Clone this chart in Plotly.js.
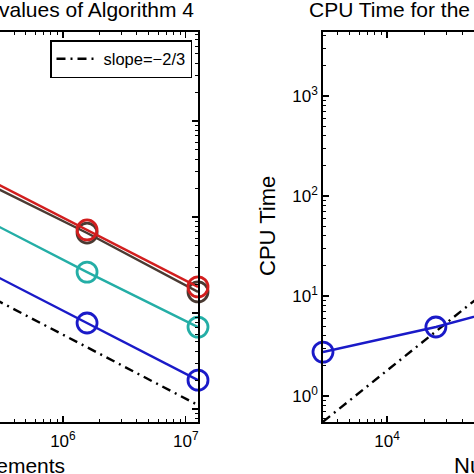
<!DOCTYPE html>
<html>
<head>
<meta charset="utf-8">
<script src="https://cdn.plot.ly/plotly-3.0.1.min.js"></script>
<style>
  html, body { margin: 0; padding: 0; background: #fff; overflow: hidden; }
  #chart { width: 474px; height: 474px; overflow: hidden; }
</style>
</head>
<body>
<div id="chart"></div>
<script>
// Number of elements for the three finest meshes (left panel)
const elementsLeft = [196608, 1572864, 12582912];
// Eigenvalue errors per eigenvalue (left panel)
const errRed   = [0.0287, 0.00733, 0.00187];
const errBrown = [0.0255, 0.00681, 0.00166];
const errTeal  = [0.0105, 0.00267, 0.000714];
const errBlue  = [0.00309, 0.000787, 0.000200];
// Reference slope line, slope = -2/3
const slopeLeftX = [196608, 12582912];
const slopeLeftY = [0.00176, 0.000110];

// CPU time (right panel)
const elementsRight = [3072, 24576, 196608];
const cpuTime = [2.75, 4.9, 9.9];
// Reference slope line, slope = 1
const slopeRightX = [3072, 196608];
const slopeRightY = [0.553, 35.4];

// Tick labels
const leftXTicks = [1e5, 1e6, 1e7];
const leftXText = ['10<sup>5</sup>', '10<sup>6</sup>', '10<sup>7</sup>'];
const leftYTicks = [1e-5, 1e-4, 1e-3, 1e-2, 1e-1, 1];
const rightXTicks = [1e3, 1e4, 1e5];
const rightXText = ['10<sup>3</sup>', '10<sup>4</sup>', '10<sup>5</sup>'];
const rightYTicks = [1, 10, 100, 1000];
const rightYText = ['10<sup>0</sup>', '10<sup>1</sup>', '10<sup>2</sup>', '10<sup>3</sup>'];

const W = 474, H = 474;
const px = v => v / W;
const py = v => 1 - v / H;

function minorVals(lo, hi) {
  const out = [];
  for (let e = lo; e <= hi; e++) {
    for (let m = 2; m <= 9; m++) out.push(m * Math.pow(10, e));
  }
  return out;
}

const FONT = 'Liberation Sans, Arial, Helvetica, sans-serif';
const dashDot = '9px,5px,2px,5px';

function seriesTrace(x, y, color, xa, ya) {
  return {
    x: x, y: y, xaxis: xa, yaxis: ya,
    type: 'scatter', mode: 'lines+markers',
    line: { color: color, width: 2.4 },
    marker: { symbol: 'circle-open', size: 20, color: color, line: { color: color, width: 2.8 } },
    cliponaxis: false, showlegend: false, hoverinfo: 'skip'
  };
}

const traces = [
  seriesTrace(elementsLeft, errBlue, '#1a1ac8', 'x', 'y'),
  seriesTrace(elementsLeft, errTeal, '#24aea6', 'x', 'y'),
  seriesTrace(elementsLeft, errBrown, '#4a3a32', 'x', 'y'),
  seriesTrace(elementsLeft, errRed, '#d21e1e', 'x', 'y'),
  {
    x: slopeLeftX, y: slopeLeftY, xaxis: 'x', yaxis: 'y',
    type: 'scatter', mode: 'lines', name: 'slope=\u22122/3',
    line: { color: '#000', width: 2.4, dash: dashDot },
    showlegend: true, hoverinfo: 'skip'
  },
  {
    x: slopeRightX, y: slopeRightY, xaxis: 'x2', yaxis: 'y2',
    type: 'scatter', mode: 'lines',
    line: { color: '#000', width: 2.4, dash: dashDot },
    showlegend: false, hoverinfo: 'skip'
  },
  seriesTrace(elementsRight, cpuTime, '#1a1ac8', 'x2', 'y2')
];

const tickCommon = {
  ticks: 'inside', ticklen: 6, tickwidth: 1.2, tickcolor: '#000',
  showline: true, linecolor: '#000', linewidth: 1.8,
  showgrid: false, zeroline: false,
  tickfont: { family: FONT, size: 17, color: '#000' }
};
const minorCommon = { ticks: 'inside', ticklen: 3, tickwidth: 1, tickcolor: '#000', showgrid: false };

const yDomain = [52 / H, 442 / H];

const layout = {
  width: W, height: H,
  margin: { l: 0, r: 0, t: 0, b: 0 },
  paper_bgcolor: '#fff', plot_bgcolor: '#fff',
  font: { family: FONT, color: '#000' },
  showlegend: true,
  legend: {
    x: px(192), xanchor: 'right', y: py(40), yanchor: 'top',
    bgcolor: '#fff', bordercolor: '#000', borderwidth: 1.5,
    itemwidth: 42,
    font: { family: FONT, size: 16.5, color: '#000' }
  },
  xaxis: Object.assign({}, tickCommon, {
    type: 'log', domain: [0, 198 / W], range: [5.488, 7.0998],
    anchor: 'y', side: 'bottom', mirror: 'allticks', ticklabelstandoff: 3,
    tickmode: 'array', tickvals: leftXTicks, ticktext: leftXText,
    minor: Object.assign({ tickvals: minorVals(4, 7) }, minorCommon)
  }),
  yaxis: Object.assign({}, tickCommon, {
    type: 'log', domain: yDomain, range: [-4.135, -0.073],
    anchor: 'x', side: 'right', mirror: false, showticklabels: false,
    tickmode: 'array', tickvals: leftYTicks,
    minor: Object.assign({ tickvals: minorVals(-5, 0) }, minorCommon)
  }),
  xaxis2: Object.assign({}, tickCommon, {
    type: 'log', domain: [323 / W, 1], range: [3.4874, 4.6954],
    anchor: 'y2', side: 'bottom', mirror: 'allticks', ticklabelstandoff: 3,
    tickmode: 'array', tickvals: rightXTicks, ticktext: rightXText,
    minor: Object.assign({ tickvals: minorVals(3, 5) }, minorCommon)
  }),
  yaxis2: Object.assign({}, tickCommon, {
    type: 'log', domain: yDomain, range: [-0.26, 3.64],
    anchor: 'x2', side: 'left', mirror: false,
    tickmode: 'array', tickvals: rightYTicks, ticktext: rightYText,
    minor: Object.assign({ tickvals: minorVals(-1, 3) }, minorCommon)
  }),
  annotations: [
    { text: 'values of Algorithm 4', xref: 'paper', yref: 'paper',
      x: px(-3), xanchor: 'left', y: py(10), yanchor: 'middle',
      showarrow: false, font: { family: FONT, size: 21, color: '#000' } },
    { text: 'CPU Time for the', xref: 'paper', yref: 'paper',
      x: px(307), xanchor: 'left', y: py(10), yanchor: 'middle',
      showarrow: false, font: { family: FONT, size: 21, color: '#000' } },
    { text: 'CPU Time', xref: 'paper', yref: 'paper', textangle: -90,
      x: px(268), xanchor: 'center', y: py(226), yanchor: 'middle',
      showarrow: false, font: { family: FONT, size: 22, color: '#000' } },
    { text: 'Number of elements', xref: 'paper', yref: 'paper',
      x: px(67), xanchor: 'right', y: py(465), yanchor: 'middle',
      showarrow: false, font: { family: FONT, size: 21, color: '#000' } },
    { text: 'Number of elements', xref: 'paper', yref: 'paper',
      x: px(452), xanchor: 'left', y: py(465), yanchor: 'middle',
      showarrow: false, font: { family: FONT, size: 22, color: '#000' } }
  ]
};

Plotly.newPlot('chart', traces, layout, { staticPlot: true, displayModeBar: false });
</script>
</body>
</html>
